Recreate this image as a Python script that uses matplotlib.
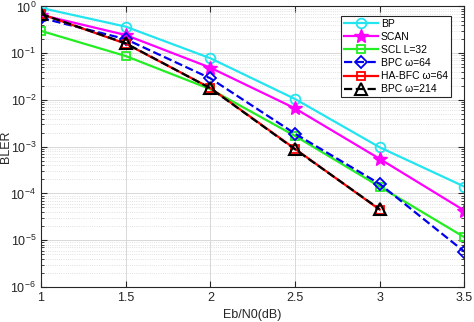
import numpy as np
import matplotlib.pyplot as plt
from matplotlib.ticker import LogLocator, NullFormatter

plt.rcParams['font.family'] = ['Liberation Sans', 'DejaVu Sans']

ebn0 = [1.0, 1.5, 2.0, 2.5, 3.0, 3.5]
ebn0_short = [1.0, 1.5, 2.0, 2.5, 3.0]

bp = [0.93, 0.37, 0.078, 0.0105, 0.00097, 1.4e-4]
scan = [0.66, 0.245, 0.049, 0.0066, 0.00055, 4.3e-5]
scl = [0.30, 0.087, 0.017, 0.0017, 0.00014, 1.16e-5]
bpc64 = [0.57, 0.20, 0.029, 0.0019, 0.00016, 5.7e-6]
habfc = [0.69, 0.16, 0.018, 0.00090, 4.5e-5]
bpc214 = [0.69, 0.163, 0.0178, 0.00088, 4.6e-5]

fig = plt.figure(figsize=(4.74, 3.22), dpi=100)
ax = fig.add_axes([0.0865, 0.109, 0.893, 0.871])

lw = 1.6
ms = 7
ax.semilogy(ebn0, bp, '-o', color='#22e5f0', lw=lw, ms=ms, mfc='none', mew=1.3, label='BP')
ax.semilogy(ebn0, scan, '-*', color='#ff00ff', lw=lw, ms=ms + 3, label='SCAN')
ax.semilogy(ebn0, scl, '-s', color='#22ee22', lw=lw, ms=ms - 1, mfc='none', mew=1.3, label='SCL L=32')
ax.semilogy(ebn0, bpc64, '--D', color='#0000ee', lw=lw, ms=ms - 1, mfc='none', mew=1.3, label='BPC ω=64')
ax.semilogy(ebn0_short, habfc, '-s', color='#ff0000', lw=lw, ms=ms - 1, mfc='none', mew=1.3, label='HA-BFC ω=64')
ax.semilogy(ebn0_short, bpc214, '--^', color='black', lw=lw, ms=ms + 1, mfc='none', mew=1.5, label='BPC ω=214')

ax.set_xlim(1, 3.5)
ax.set_ylim(1e-6, 1)
ax.set_xticks(ebn0)
ax.set_xticklabels(['1', '1.5', '2', '2.5', '3', '3.5'])
ax.yaxis.set_major_locator(LogLocator(base=10, numticks=10))
ax.yaxis.set_minor_locator(LogLocator(base=10, subs=np.arange(2, 10), numticks=10))
ax.yaxis.set_minor_formatter(NullFormatter())

ax.grid(True, which='major', color='#d8d8d8', lw=0.7, ls='-')
ax.grid(True, which='minor', axis='y', color='#d8d8d8', lw=0.6, ls=':')
ax.tick_params(which='both', direction='in', top=True, right=True, labelsize=9, colors='#262626')
ax.tick_params(which='major', length=4)
ax.tick_params(which='minor', length=2)
for s in ax.spines.values():
    s.set_color('#262626')
    s.set_linewidth(0.8)

ax.set_xlabel('Eb/N0(dB)', fontsize=9, color='#262626')
ax.set_ylabel('BLER', fontsize=9, color='#262626')
ax.xaxis.set_label_coords(0.5, -0.08)
ax.yaxis.set_label_coords(-0.068, 0.5)

leg = ax.legend(loc='upper right', bbox_to_anchor=(0.974, 0.975), fontsize=7.5, frameon=True,
                fancybox=False, edgecolor='#262626', framealpha=1, handlelength=3.3,
                borderpad=0.3, labelspacing=0.3, handletextpad=0.25, borderaxespad=0.2)
leg.get_frame().set_linewidth(0.8)

fig.savefig('out.png', dpi=100)
